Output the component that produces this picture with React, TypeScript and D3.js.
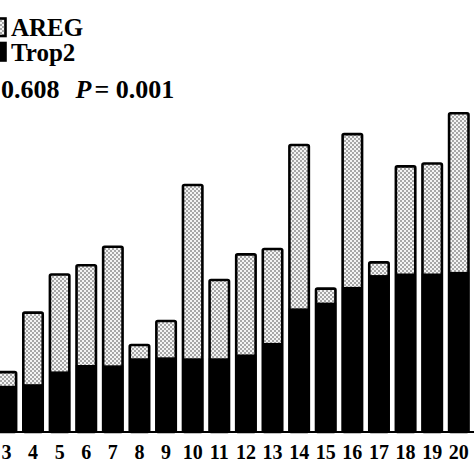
import { useEffect, useRef } from 'react'
import * as d3 from 'd3'

// patient numbers visible in the figure (1 and 2 are cropped away)
const samples = ['3', '4', '5', '6', '7', '8', '9', '10', '11', '12', '13', '14', '15', '16', '17', '18', '19', '20']

// relative expression
const trop2 = [1.42, 1.47, 1.87, 2.07, 2.06, 2.28, 2.31, 2.28, 2.28, 2.4, 2.76, 3.84, 4.02, 4.51, 4.88, 4.93, 4.93, 4.98]
const areg = [0.45, 2.26, 3.05, 3.14, 3.73, 0.44, 1.16, 5.44, 2.47, 3.15, 2.96, 5.13, 0.46, 4.8, 0.42, 3.37, 3.46, 4.98]

const legendLabels = ['AREG', 'Trop2']

const W = 474
const H = 474
const baseline = 432
const font = '"Liberation Serif", "Times New Roman", serif'

export default function App() {
	const ref = useRef<SVGSVGElement>(null)

	useEffect(() => {
		const svg = d3.select(ref.current)
		svg.selectAll('*').remove()

		// stipple fill used for the AREG part
		const defs = svg.append('defs')
		const pat = defs
			.append('pattern')
			.attr('id', 'stipple')
			.attr('patternUnits', 'userSpaceOnUse')
			.attr('width', 4)
			.attr('height', 4)
		pat.append('rect').attr('width', 4).attr('height', 4).attr('fill', '#f4f4f4')
		pat.append('circle').attr('cx', 1).attr('cy', 1).attr('r', 0.75).attr('fill', '#333')
		pat.append('circle').attr('cx', 3).attr('cy', 3).attr('r', 0.75).attr('fill', '#333')

		const x = d3
			.scaleBand()
			.domain(samples)
			.range([-6.9, 472.1])
			.paddingInner(0.27)
			.paddingOuter(0.135)

		const y = d3.scaleLinear().domain([0, 10]).range([baseline, 112])

		const rows = samples.map((s, i) => ({ s, t: trop2[i], a: areg[i] }))

		const g = svg.append('g')

		// whole bar (stippled) first
		g.selectAll('.total')
			.data(rows)
			.enter()
			.append('rect')
			.attr('class', 'total')
			.attr('x', (d) => x(d.s)!)
			.attr('y', (d) => y(d.t + d.a))
			.attr('width', x.bandwidth())
			.attr('height', (d) => baseline - y(d.t + d.a))
			.attr('rx', 1.5)
			.attr('fill', 'url(#stipple)')
			.attr('stroke', '#000')
			.attr('stroke-width', 2.6)

		// Trop2 on the bottom, solid black
		g.selectAll('.trop')
			.data(rows)
			.enter()
			.append('rect')
			.attr('class', 'trop')
			.attr('x', (d) => x(d.s)!)
			.attr('y', (d) => y(d.t))
			.attr('width', x.bandwidth())
			.attr('height', (d) => baseline - y(d.t))
			.attr('fill', '#000')
			.attr('stroke', '#000')
			.attr('stroke-width', 1.5)

		// x axis
		const xAxis = d3.axisBottom(x).tickSize(0).tickPadding(13)
		const ax = svg.append('g').attr('transform', `translate(0,${baseline})`).call(xAxis)
		ax.select('.domain').remove()
		ax.selectAll('text')
			.attr('fill', '#000')
			.style('font-family', font)
			.style('font-size', '20px')
			.style('font-weight', 'bold')
		svg.append('line')
			.attr('x1', 0)
			.attr('x2', W)
			.attr('y1', baseline)
			.attr('y2', baseline)
			.attr('stroke', '#000')
			.attr('stroke-width', 2.2)

		// legend
		const leg = svg.append('g')
		legendLabels.forEach((lab, i) => {
			const top = 18.5 + i * 24.5
			leg.append('rect')
				.attr('x', -10)
				.attr('y', top)
				.attr('width', 15.5)
				.attr('height', 17.5)
				.attr('fill', i === 0 ? 'url(#stipple)' : '#000')
				.attr('stroke', '#000')
				.attr('stroke-width', 2.6)
			leg.append('text')
				.attr('x', 11)
				.attr('y', top + 17.5)
				.style('font-family', font)
				.style('font-size', '25px')
				.style('font-weight', 'bold')
				.text(lab)
		})

		// correlation text
		const stat = svg
			.append('text')
			.attr('x', 1)
			.attr('y', 98)
			.style('font-family', font)
			.style('font-size', '26px')
			.style('font-weight', 'bold')
		stat.append('tspan').text('0.608')
		stat.append('tspan').attr('dx', 16).style('font-style', 'italic').text('P')
		stat.append('tspan').attr('dx', 3).text('= 0.001')
	}, [])

	return (
		<svg
			ref={ref}
			width={W}
			height={H}
			style={{ position: 'absolute', left: 0, top: 0, background: '#fff' }}
		/>
	)
}
